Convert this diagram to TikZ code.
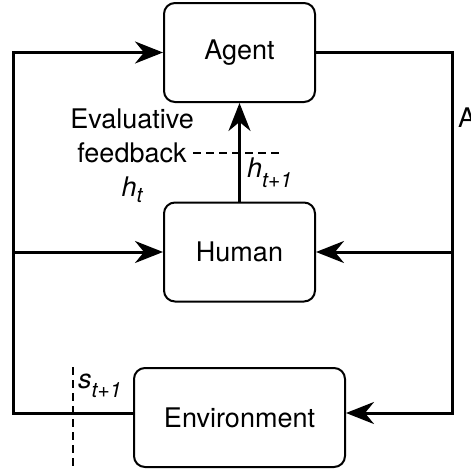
\documentclass[tikz,border=0pt]{standalone}
\usepackage{fontspec}
\setmainfont{TeX Gyre Heros}
\usetikzlibrary{arrows.meta}

\newcommand{\lowidx}[2][9pt]{\raisebox{-#1}{\fontsize{21}{21}\selectfont\itshape #2}}

\tikzset{
	block/.style={draw, line width=2pt, rounded corners=11pt, minimum width=151pt, minimum height=99pt, inner sep=0pt},
	flow/.style={line width=3pt, -{Stealth[length=28pt, width=22pt, inset=9pt]}},
	mark line/.style={dashed, line width=1.3pt, dash pattern=on 8pt off 5pt},
}

\begin{document}
\begin{tikzpicture}[x=1pt, y=-1pt, font=\fontsize{27}{34}\selectfont]

			\useasboundingbox (0,0) rectangle (471,471);

			\node [block] (agent) at (239.5,52.5) {Agent};
			\node [block] (human) at (239.5,252) {Human};
			\node [block, minimum width=211pt] (env) at (239.5,417.5) {Environment};

			\coordinate (tl) at (13,52.5);
			\coordinate (ml) at (13,252);
			\coordinate (bl) at (13,413);
			\coordinate (tr) at (452,52.5);
			\coordinate (mr) at (452,252);
			\coordinate (br) at (452,413);

			\draw [flow] ([yshift=4.5pt]env.west) -- (bl) -- (tl) -- (agent.west);
			\draw [flow] (ml) -- (human.west);
			\draw [flow] (agent.east) -- (tr) -- (br) -- ([yshift=4.5pt]env.east);
			\draw [flow] (mr) -- (human.east);
			\draw [flow] (human.north) -- (agent.south);

			\node [align=center, anchor=north, inner sep=0pt] (fb) at (132,109) {Evaluative\\feedback\\\textit{h}\lowidx[6pt]{t}};
			\coordinate (fbs) at (193,153);
			\coordinate (fbe) at (283,153);
			\draw [mark line] (fbs) -- (fbe);

			\node [anchor=base west, inner sep=0pt] (hnext) at (247,177) {\textit{h}\lowidx[10pt]{t+1}};

			\coordinate (st) at (73,367);
			\coordinate (sb) at (73,472);
			\draw [mark line] (st) -- (sb);
			\node [anchor=base west, inner sep=0pt] (snext) at (78,388) {\textit{s}\lowidx{t+1}};

			\node [anchor=base west, inner sep=0pt] (act) at (458,127) {A};

		\end{tikzpicture}
\end{document}
